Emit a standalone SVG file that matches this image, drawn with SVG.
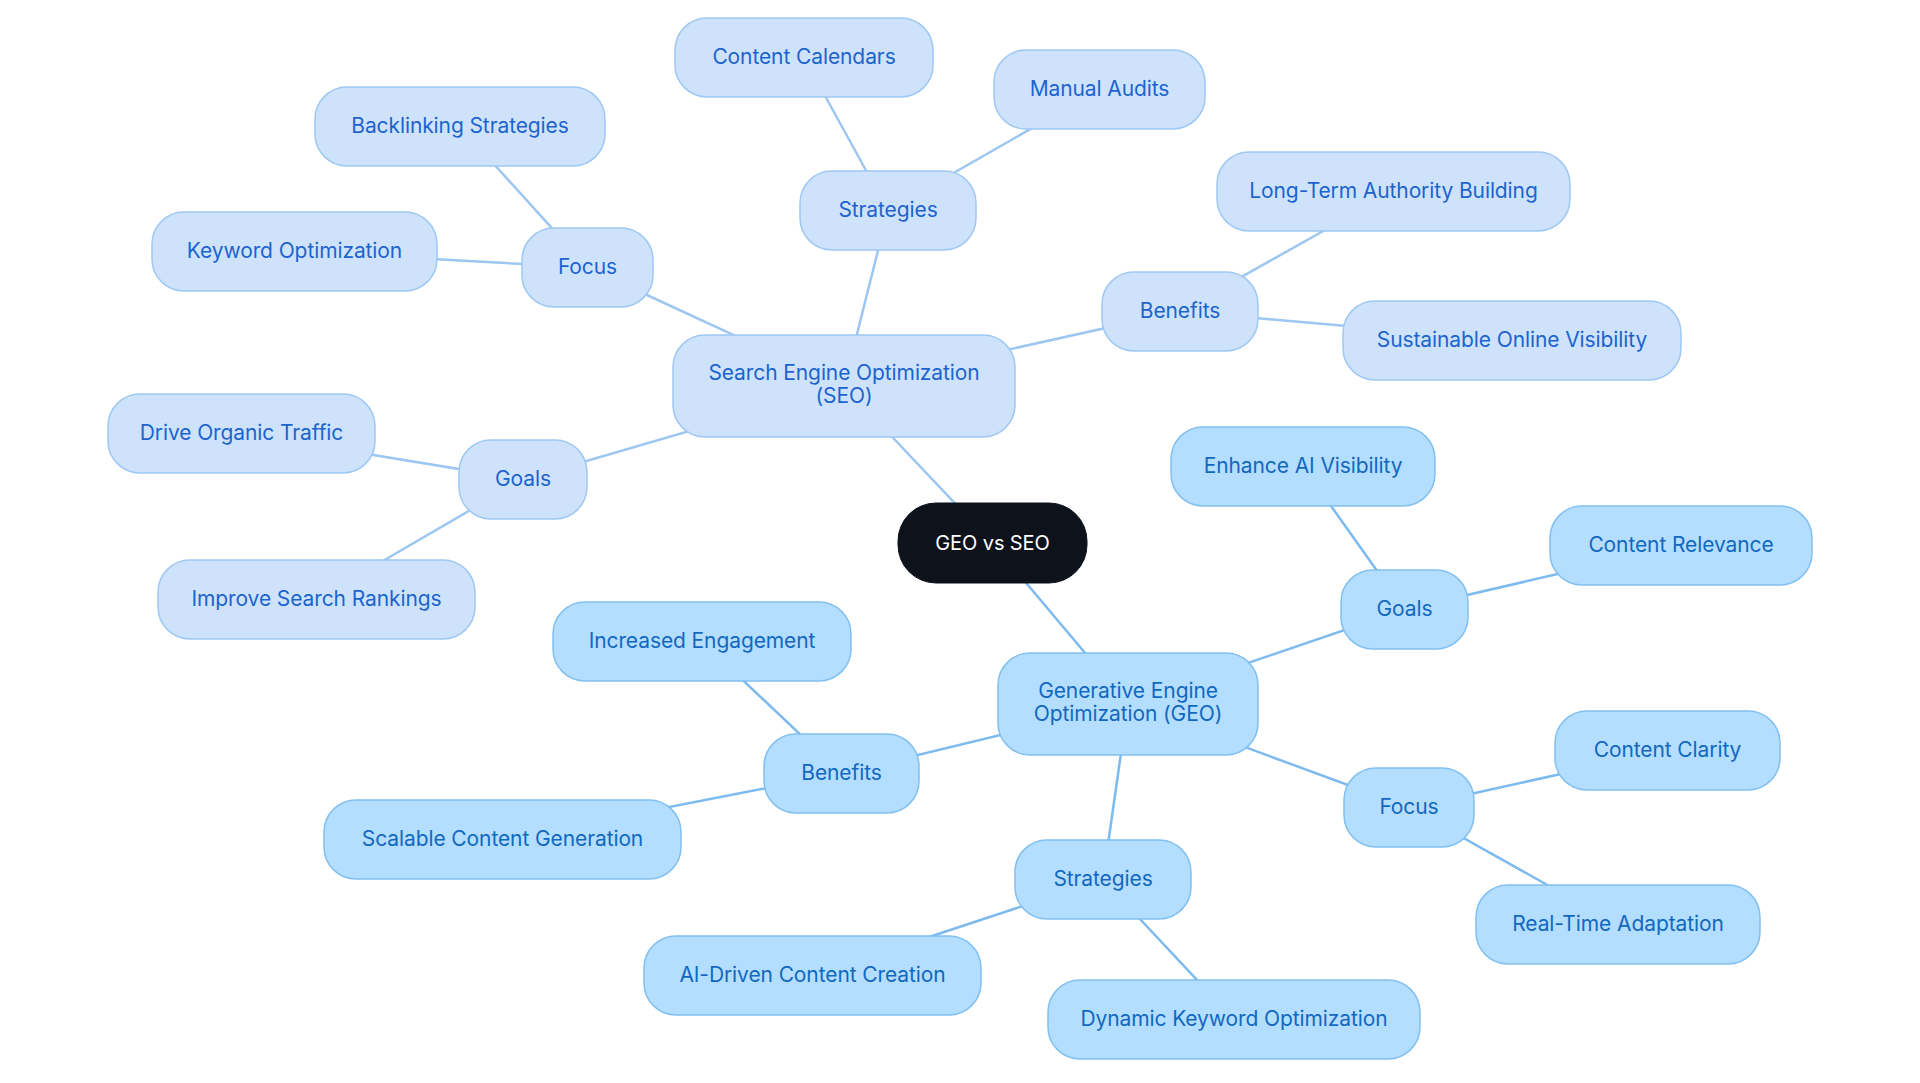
<svg xmlns="http://www.w3.org/2000/svg" width="1920" height="1083" viewBox="0 0 1920 1083">
<style>
text{font-family:Inter,"Noto Sans","Liberation Sans",sans-serif;font-size:21px;text-anchor:middle;letter-spacing:-0.1px}
.s rect{fill:#cee3fb;stroke:#9fc8f3;stroke-width:1.5}
.s text{fill:#1d63cf}
.g rect{fill:#b4deff;stroke:#82c0f1;stroke-width:1.5}
.g text{fill:#1268bf}
.r rect{fill:#0d121b;stroke:#0d121b}
.r text{fill:#ffffff;font-size:20px}
.ls{stroke:#9dc6f1;stroke-width:2.5;fill:none}
.lg{stroke:#7cbaef;stroke-width:2.5;fill:none}
</style>
<rect width="1920" height="1083" fill="#ffffff"/>
<g id="connectors">
<line class="ls" x1="992.5" y1="543" x2="844" y2="386"/>
<line class="lg" x1="992.5" y1="543" x2="1128" y2="704"/>
<line class="ls" x1="844" y1="386" x2="587.5" y2="267.5"/>
<line class="ls" x1="844" y1="386" x2="888" y2="210.5"/>
<line class="ls" x1="844" y1="386" x2="1180" y2="311.5"/>
<line class="ls" x1="844" y1="386" x2="523" y2="479.5"/>
<line class="ls" x1="587.5" y1="267.5" x2="460" y2="126.5"/>
<line class="ls" x1="587.5" y1="267.5" x2="294.5" y2="251.5"/>
<line class="ls" x1="888" y1="210.5" x2="804" y2="57.5"/>
<line class="ls" x1="888" y1="210.5" x2="1099.5" y2="89.5"/>
<line class="ls" x1="1180" y1="311.5" x2="1393.5" y2="191.5"/>
<line class="ls" x1="1180" y1="311.5" x2="1512" y2="340.5"/>
<line class="ls" x1="523" y1="479.5" x2="241.5" y2="433.5"/>
<line class="ls" x1="523" y1="479.5" x2="316.5" y2="599.5"/>
<line class="lg" x1="1128" y1="704" x2="1404.5" y2="609.5"/>
<line class="lg" x1="1128" y1="704" x2="1409" y2="807.5"/>
<line class="lg" x1="1128" y1="704" x2="1103" y2="879.5"/>
<line class="lg" x1="1128" y1="704" x2="841.5" y2="773.5"/>
<line class="lg" x1="1404.5" y1="609.5" x2="1303" y2="466.5"/>
<line class="lg" x1="1404.5" y1="609.5" x2="1681" y2="545.5"/>
<line class="lg" x1="1409" y1="807.5" x2="1667.5" y2="750.5"/>
<line class="lg" x1="1409" y1="807.5" x2="1618" y2="924.5"/>
<line class="lg" x1="1103" y1="879.5" x2="812.5" y2="975.5"/>
<line class="lg" x1="1103" y1="879.5" x2="1234" y2="1019.5"/>
<line class="lg" x1="841.5" y1="773.5" x2="702" y2="641.5"/>
<line class="lg" x1="841.5" y1="773.5" x2="502.5" y2="839.5"/>
</g>
<g id="root" class="r"><rect x="898" y="503" width="189" height="80" rx="38"/><text x="992.5" y="549.5">GEO vs SEO</text></g>
<g id="seo" class="s"><rect x="673" y="335" width="342" height="102" rx="32"/><text x="844" y="379.5">Search Engine Optimization</text><text x="844" y="402.5">(SEO)</text></g>
<g id="seo-focus" class="s"><rect x="522" y="228" width="131" height="79" rx="32"/><text x="587.5" y="274">Focus</text></g>
<g id="seo-backlinking" class="s"><rect x="315" y="87" width="290" height="79" rx="32"/><text x="460" y="133">Backlinking Strategies</text></g>
<g id="seo-keyword" class="s"><rect x="152" y="212" width="285" height="79" rx="32"/><text x="294.5" y="258">Keyword Optimization</text></g>
<g id="seo-strategies" class="s"><rect x="800" y="171" width="176" height="79" rx="32"/><text x="888" y="217">Strategies</text></g>
<g id="seo-calendars" class="s"><rect x="675" y="18" width="258" height="79" rx="32"/><text x="804" y="64">Content Calendars</text></g>
<g id="seo-audits" class="s"><rect x="994" y="50" width="211" height="79" rx="32"/><text x="1099.5" y="96">Manual Audits</text></g>
<g id="seo-benefits" class="s"><rect x="1102" y="272" width="156" height="79" rx="32"/><text x="1180" y="318">Benefits</text></g>
<g id="seo-authority" class="s"><rect x="1217" y="152" width="353" height="79" rx="32"/><text x="1393.5" y="198">Long-Term Authority Building</text></g>
<g id="seo-visibility" class="s"><rect x="1343" y="301" width="338" height="79" rx="32"/><text x="1512" y="347">Sustainable Online Visibility</text></g>
<g id="seo-goals" class="s"><rect x="459" y="440" width="128" height="79" rx="32"/><text x="523" y="486">Goals</text></g>
<g id="seo-traffic" class="s"><rect x="108" y="394" width="267" height="79" rx="32"/><text x="241.5" y="440">Drive Organic Traffic</text></g>
<g id="seo-rankings" class="s"><rect x="158" y="560" width="317" height="79" rx="32"/><text x="316.5" y="606">Improve Search Rankings</text></g>
<g id="geo" class="g"><rect x="998" y="653" width="260" height="102" rx="32"/><text x="1128" y="697.5">Generative Engine</text><text x="1128" y="720.5">Optimization (GEO)</text></g>
<g id="geo-goals" class="g"><rect x="1341" y="570" width="127" height="79" rx="32"/><text x="1404.5" y="616">Goals</text></g>
<g id="geo-ai-visibility" class="g"><rect x="1171" y="427" width="264" height="79" rx="32"/><text x="1303" y="473">Enhance AI Visibility</text></g>
<g id="geo-relevance" class="g"><rect x="1550" y="506" width="262" height="79" rx="32"/><text x="1681" y="552">Content Relevance</text></g>
<g id="geo-focus" class="g"><rect x="1344" y="768" width="130" height="79" rx="32"/><text x="1409" y="814">Focus</text></g>
<g id="geo-clarity" class="g"><rect x="1555" y="711" width="225" height="79" rx="32"/><text x="1667.5" y="757">Content Clarity</text></g>
<g id="geo-realtime" class="g"><rect x="1476" y="885" width="284" height="79" rx="32"/><text x="1618" y="931">Real-Time Adaptation</text></g>
<g id="geo-strategies" class="g"><rect x="1015" y="840" width="176" height="79" rx="32"/><text x="1103" y="886">Strategies</text></g>
<g id="geo-ai-creation" class="g"><rect x="644" y="936" width="337" height="79" rx="32"/><text x="812.5" y="982">AI-Driven Content Creation</text></g>
<g id="geo-dynamic" class="g"><rect x="1048" y="980" width="372" height="79" rx="32"/><text x="1234" y="1026">Dynamic Keyword Optimization</text></g>
<g id="geo-benefits" class="g"><rect x="764" y="734" width="155" height="79" rx="32"/><text x="841.5" y="780">Benefits</text></g>
<g id="geo-engagement" class="g"><rect x="553" y="602" width="298" height="79" rx="32"/><text x="702" y="648">Increased Engagement</text></g>
<g id="geo-scalable" class="g"><rect x="324" y="800" width="357" height="79" rx="32"/><text x="502.5" y="846">Scalable Content Generation</text></g>
</svg>
